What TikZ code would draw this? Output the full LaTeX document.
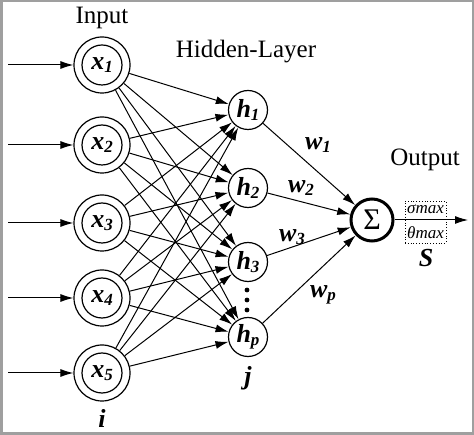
\documentclass[tikz,border=0pt]{standalone}
\usepackage{fontspec}
\setmainfont{Liberation Serif}
\usetikzlibrary{arrows.meta}
\newcommand{\mysub}[1]{\raisebox{-3.5pt}{\fontsize{17}{17}\selectfont #1}}
\begin{document}
\begin{tikzpicture}[x=1pt,y=-1pt,
 inp/.style={circle,draw,line width=1.2pt,minimum size=56pt,inner sep=0pt,font=\fontsize{26}{28}\selectfont\bfseries\itshape},
 hid/.style={circle,draw,line width=1.2pt,minimum size=39pt,inner sep=0pt,font=\fontsize{26}{28}\selectfont\bfseries\itshape},
 sumnode/.style={circle,draw,line width=3pt,minimum size=42pt,inner sep=0pt,font=\fontsize{30}{32}\selectfont},
 arr/.style={-{Latex[length=13pt,width=8pt]},line width=1pt},
 lbl/.style={font=\fontsize{25}{27}\selectfont},
 var/.style={font=\fontsize{26}{28}\selectfont\bfseries\itshape},
 small/.style={font=\fontsize{17}{18}\selectfont\itshape,inner sep=0pt},
 sbox/.style={draw,dotted,line width=0.8pt,minimum width=41pt,minimum height=42pt,inner sep=0pt},
]
\useasboundingbox (0,0) rectangle (474,435);
\draw[gray!75,line width=2.5pt] (1.25,1.25) rectangle (472.75,433.75);

% input layer
\foreach \i/\y in {1/65,2/145,3/223,4/298,5/373}{
  \node[inp] (x\i) at (102,\y) {x\mysub{\i}};
  \draw[line width=1.2pt] (x\i.center) circle (20pt);
  \coordinate (in\i) at (8,\y);
  \draw[arr] (in\i) -- (x\i);
}

% hidden layer
\node[hid] (h1) at (248,110) {h\mysub{1}};
\node[hid] (h2) at (248,188) {h\mysub{2}};
\node[hid] (h3) at (248,262) {h\mysub{3}};
\node[hid] (hp) at (248,337) {h\mysub{p}};
\foreach \d in {290,300,310}{\fill (247,\d) circle (2.4pt);}

\foreach \i in {1,...,5}{
  \foreach \j in {1,2,3,p}{
    \draw[arr] (x\i) -- (h\j);
  }
}

% output
\node[sumnode] (sum) at (372,220) {Σ};
\foreach \j in {1,2,3,p}{\draw[arr] (h\j) -- (sum);}

\node[sbox] (box) at (425.5,222) {};
\coordinate (out) at (468,220);
\draw[arr] (sum) -- (out);
\node[small] (sig) at (425.5,209) {σmax};
\node[small] (the) at (425.5,233) {θmax};
\node[var] (S) at (426,258) {S};

% weights
\node[var] (w1) at (318,145) {w\mysub{1}};
\node[var] (w2) at (301,188) {w\mysub{2}};
\node[var] (w3) at (292,237) {w\mysub{3}};
\node[var] (wp) at (323,295) {w\mysub{p}};

% labels
\node[lbl] (tin) at (102,18) {Input};
\node[lbl] (thid) at (246,52) {Hidden-Layer};
\node[lbl] (tout) at (425,160) {Output};
\node[var] (ti) at (102,418) {i};
\node[var] (tj) at (248,378) {j};
\end{tikzpicture}
\end{document}
